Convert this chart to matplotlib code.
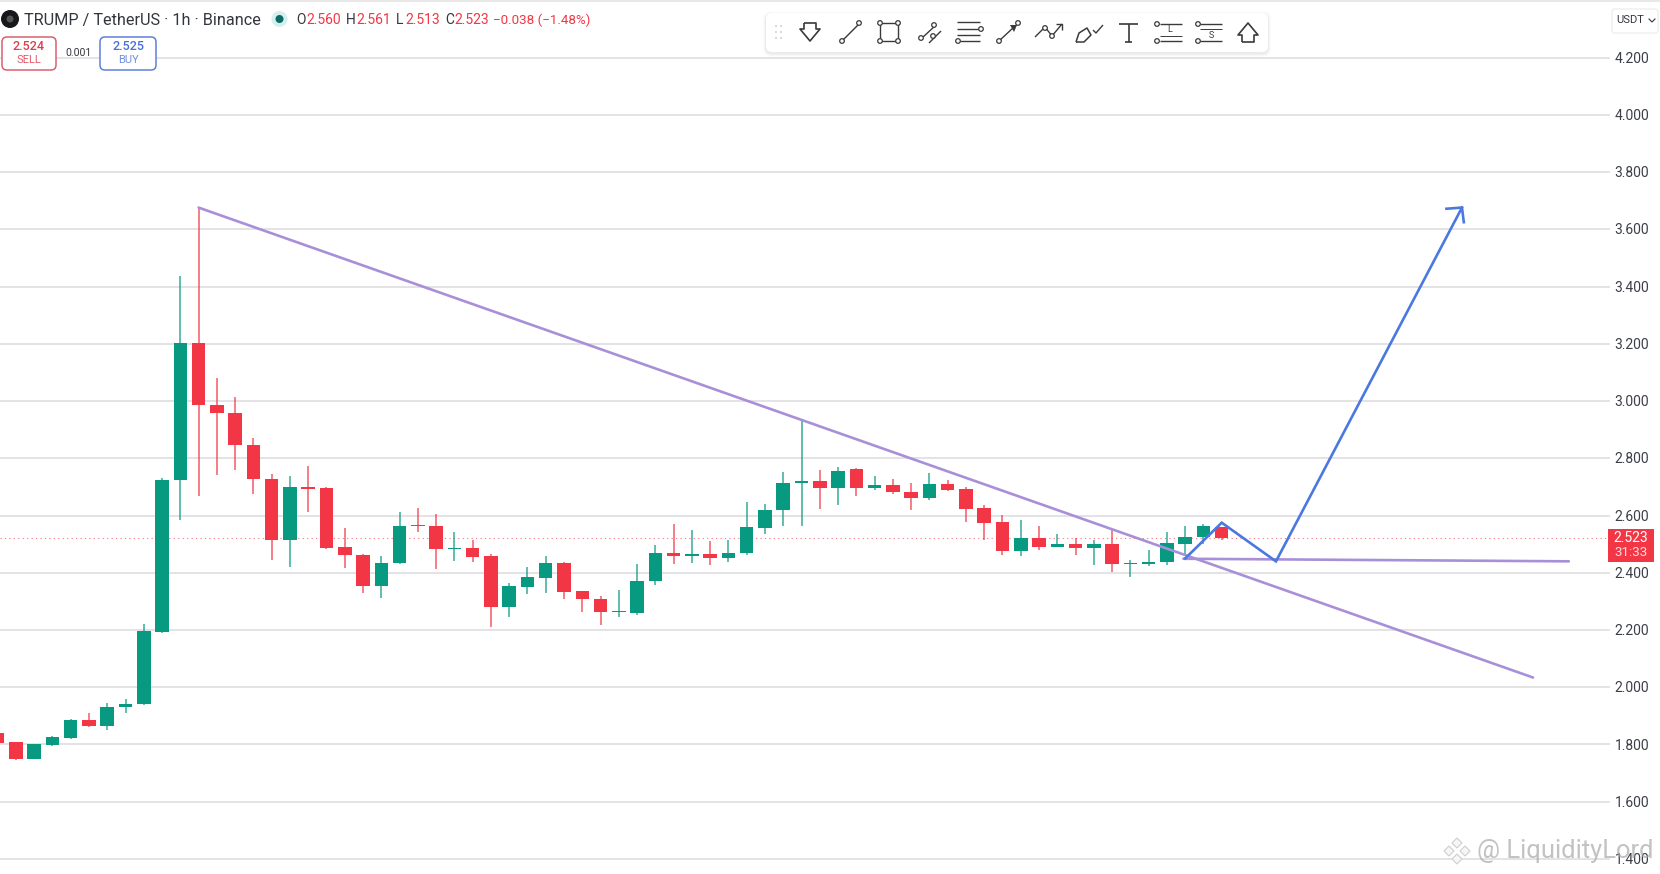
import numpy as np
import matplotlib
matplotlib.use("Agg")
import matplotlib.pyplot as plt
from matplotlib.patches import FancyBboxPatch, Circle, Rectangle, Polygon

plt.rcParams['font.family'] = ['Roboto', 'DejaVu Sans']

# candles, first one is cut by the left edge
opens = [1.84, 1.807, 1.75, 1.797, 1.823, 1.886, 1.865, 1.93, 1.94, 2.193, 2.725, 3.203, 2.986, 2.96, 2.847, 2.726,
         2.513, 2.70, 2.697, 2.489, 2.462, 2.355, 2.435, 2.568, 2.563, 2.484, 2.487, 2.457, 2.282, 2.352, 2.381,
         2.434, 2.336, 2.31, 2.263, 2.26, 2.37, 2.47, 2.458, 2.467, 2.451, 2.468, 2.558, 2.62, 2.713, 2.72, 2.697,
         2.762, 2.697, 2.706, 2.683, 2.66, 2.71, 2.691, 2.625, 2.578, 2.476, 2.52, 2.491, 2.5, 2.488, 2.5, 2.431,
         2.429, 2.436, 2.502, 2.525, 2.560]
highs = [1.85, 1.81, 1.802, 1.83, 1.89, 1.91, 1.945, 1.96, 2.22, 2.73, 3.438, 3.676, 3.08, 3.014, 2.87, 2.744, 2.737,
         2.773, 2.70, 2.557, 2.465, 2.458, 2.612, 2.625, 2.607, 2.543, 2.516, 2.467, 2.364, 2.42, 2.457, 2.436,
         2.338, 2.32, 2.34, 2.43, 2.497, 2.572, 2.55, 2.511, 2.516, 2.648, 2.641, 2.751, 2.935, 2.759, 2.768, 2.765,
         2.739, 2.726, 2.715, 2.747, 2.724, 2.70, 2.636, 2.601, 2.584, 2.563, 2.537, 2.523, 2.513, 2.549, 2.445,
         2.478, 2.543, 2.563, 2.57, 2.561]
lows = [1.80, 1.745, 1.748, 1.795, 1.818, 1.86, 1.85, 1.91, 1.938, 2.19, 2.586, 2.67, 2.74, 2.76, 2.675, 2.444, 2.42,
        2.612, 2.484, 2.418, 2.33, 2.312, 2.43, 2.543, 2.414, 2.44, 2.437, 2.21, 2.247, 2.326, 2.329, 2.308, 2.263,
        2.219, 2.244, 2.254, 2.359, 2.432, 2.435, 2.428, 2.439, 2.462, 2.534, 2.565, 2.565, 2.623, 2.637, 2.668,
        2.689, 2.677, 2.619, 2.654, 2.684, 2.578, 2.513, 2.461, 2.457, 2.478, 2.489, 2.461, 2.428, 2.403, 2.385,
        2.425, 2.426, 2.461, 2.50, 2.513]
closes = [1.805, 1.75, 1.80, 1.825, 1.886, 1.863, 1.93, 1.942, 2.196, 2.724, 3.203, 2.986, 2.96, 2.847, 2.726, 2.513,
          2.70, 2.694, 2.486, 2.462, 2.355, 2.435, 2.565, 2.564, 2.484, 2.488, 2.455, 2.282, 2.354, 2.384, 2.434,
          2.333, 2.308, 2.263, 2.267, 2.372, 2.47, 2.458, 2.466, 2.451, 2.47, 2.559, 2.621, 2.715, 2.72, 2.697, 2.757,
          2.697, 2.705, 2.683, 2.66, 2.71, 2.689, 2.623, 2.575, 2.476, 2.522, 2.491, 2.5, 2.488, 2.5, 2.431, 2.435,
          2.438, 2.504, 2.526, 2.563, 2.523]
last_price = 2.523

price_ticks = [4.2, 4.0, 3.8, 3.6, 3.4, 3.2, 3.0, 2.8, 2.6, 2.4, 2.2, 2.0, 1.8, 1.6, 1.4]

# drawings on the chart, as (bar index, price)
trend_x = [10, 83.04]
trend_y = [3.676, 2.034]
level_x = [63.9, 85.0]
level_y = [2.449, 2.44]
path_x = [64.0, 66.0, 68.97, 79.15]
path_y = [2.45, 2.575, 2.44, 3.676]
head_x = [78.3, 79.15, 79.25]
head_y = [3.672, 3.676, 3.625]

GREEN = '#089981'
RED = '#f23645'
BLUE = '#4b78e0'
PURPLE = '#a98fd8'
GRID = '#e1e1e3'

W, H = 1660, 874
fig = plt.figure(figsize=(W / 100, H / 100), dpi=100, facecolor='white')

# price chart covers the whole figure
ax = fig.add_axes([0, 0, 1, 1])
ax.set_axis_off()
ax.set_xlim(-15.9 / 18.27, (W - 15.9) / 18.27)
ax.set_ylim(2.8 - (H - 458.3) / 286.2, 2.8 + 458.3 / 286.2)

# grid stops at the price scale
grid_end = 1609 / W
for p in price_ticks:
    ax.axhline(p, xmin=0, xmax=grid_end, color=GRID, lw=1.3, zorder=1)
ax.axhline(last_price, xmin=0, xmax=grid_end, color=RED, lw=0.8, ls=(0, (1, 3)), alpha=0.7, zorder=2)

idx = np.arange(len(opens)) - 1
o = np.array(opens)
c = np.array(closes)
colors = [GREEN if c[i] >= o[i] else RED for i in range(len(o))]
ax.vlines(idx, lows, highs, colors=colors, lw=1.2, alpha=0.75, zorder=3)
ax.bar(idx, np.abs(c - o), bottom=np.minimum(o, c), width=0.74, color=colors, zorder=4)

ax.plot(trend_x, trend_y, color=PURPLE, lw=1.9, zorder=5, solid_capstyle='round')
ax.plot(level_x, level_y, color=PURPLE, lw=1.9, zorder=5, solid_capstyle='round')
ax.plot(path_x, path_y, color=BLUE, lw=1.9, zorder=6, solid_joinstyle='miter')
ax.plot(head_x, head_y, color=BLUE, lw=1.9, zorder=6, solid_joinstyle='miter')

# everything else is screen furniture, placed in pixels
ui = fig.add_axes([0, 0, 1, 1])
ui.set_axis_off()
ui.patch.set_alpha(0)
ui.set_xlim(0, W)
ui.set_ylim(H, 0)

ui.add_patch(Rectangle((0, 0), W, 2, color='#e8e8e8', lw=0))

for p in price_ticks:
    y = 459.3 + (2.8 - p) * 286.2
    ui.text(1632, y, f'{p:.3f}', ha='center', va='center', fontsize=10, color='#3c3f47')

# last price tag
ui.add_patch(Rectangle((1608, 529), 46, 33, color=RED, lw=0, zorder=5))
ui.text(1631, 538, '2.523', ha='center', va='center', fontsize=10, color='white', zorder=6)
ui.text(1631, 553, '31:33', ha='center', va='center', fontsize=9.6, color='#fbdde0', zorder=6)

# header
ui.add_patch(Circle((10, 19), 9, color='#16181c', lw=0))
ui.add_patch(Circle((10, 19), 3.5, color='#555555', lw=0))
ui.text(24, 20.5, 'TRUMP / TetherUS · 1h · Binance', ha='left', va='center', fontsize=11.7, color='#33363d')
ui.add_patch(Circle((279.5, 19), 8, color='#d5eeee', lw=0))
ui.add_patch(Circle((279.5, 19), 4, color='#0c6b66', lw=0))
header = [(296, 'O', '#33363d', 10), (306, '2.560', RED, 10), (346, 'H', '#33363d', 10), (356, '2.561', RED, 10),
          (396, 'L', '#33363d', 10), (405, '2.513', RED, 10), (445, 'C', '#33363d', 10), (454, '2.523', RED, 10),
          (493, '−0.038 (−1.48%)', RED, 9.6)]
for hx, s, col, fs in header:
    ui.text(hx, 20, s, ha='left', va='center', fontsize=fs, color=col)

# sell / buy buttons
ui.add_patch(FancyBboxPatch((2, 37), 54, 33, boxstyle='round,pad=0,rounding_size=5', fc='white', ec='#d9616f', lw=1.1))
ui.text(29, 47, '2.524', ha='center', va='center', fontsize=9, color='#d8404f', fontweight='medium')
ui.text(29, 60, 'SELL', ha='center', va='center', fontsize=8, color='#e0596a')
ui.text(78, 53, '0.001', ha='center', va='center', fontsize=7.5, color='#33363d')
ui.add_patch(FancyBboxPatch((100, 37), 56, 33, boxstyle='round,pad=0,rounding_size=5', fc='white', ec='#5f7fd8', lw=1.1))
ui.text(128, 47, '2.525', ha='center', va='center', fontsize=9, color='#4a6fd8', fontweight='medium')
ui.text(128, 60, 'BUY', ha='center', va='center', fontsize=8, color='#6f8fe0')

# currency box
ui.add_patch(FancyBboxPatch((1612, 9), 46, 24, boxstyle='round,pad=0,rounding_size=3', fc='white', ec='#eeeeee', lw=1))
ui.text(1630, 20, 'USDT', ha='center', va='center', fontsize=8, color='#33363d')
ui.plot([1649, 1652, 1655], [19, 22, 19], color='#33363d', lw=0.8)

# drawing toolbar, soft shadow then the panel
for off, a in [(3, 0.015), (2, 0.025), (1, 0.04)]:
    ui.add_patch(FancyBboxPatch((766 - off, 13 - off + 1.5), 502 + 2 * off, 39 + 2 * off,
                                boxstyle='round,pad=0,rounding_size=7', fc='black', ec='none', alpha=a))
ui.add_patch(FancyBboxPatch((766, 13), 502, 39, boxstyle='round,pad=0,rounding_size=6', fc='white', ec='none'))

ICON = '#3a3a3a'


def seg(xs, ys, lw=1.0):
    ui.plot(xs, ys, color=ICON, lw=lw, solid_capstyle='butt', zorder=7)


def dot(x, y):
    ui.add_patch(Circle((x, y), 2.3, fc='white', ec=ICON, lw=0.9, zorder=8))


for gx in [776, 781]:
    for gy in [26, 32, 38]:
        ui.add_patch(Circle((gx, gy), 0.9, color='#c8c8c8', lw=0))

# down arrow
seg([804, 804, 800, 810, 820, 816, 816, 804], [23, 29, 29, 41, 29, 29, 23, 23], 1.2)
# trend line
seg([842, 859], [41, 24])
dot(842, 41)
dot(859, 23)
# rectangle
seg([880, 898, 898, 880, 880], [23, 23, 41, 41, 23])
for px_, py_ in [(880, 23), (898, 23), (880, 41), (898, 41)]:
    dot(px_, py_)
# parallel lines
seg([922, 936], [38, 25])
seg([929, 941], [43, 31])
dot(921, 38)
dot(934, 25)
dot(933, 36)
# horizontal lines
seg([957, 980], [22, 22])
seg([957, 979], [29, 29])
seg([957, 980], [35, 35])
seg([960, 980], [41, 41])
dot(981, 29)
dot(958, 41)
# arrow line
seg([999, 1014], [41, 27])
ui.add_patch(Polygon([[1010, 25], [1017, 25], [1014, 32]], color=ICON, lw=0, zorder=8))
dot(999, 41)
dot(1018, 23)
# path
seg([1035, 1045, 1052, 1062], [37, 27, 36, 24])
seg([1056, 1062, 1062], [24, 24, 30])
dot(1045, 28)
dot(1052, 36)
# brush
seg([1076, 1079, 1087, 1091, 1084, 1076], [42, 33, 28, 35, 42, 42], 1.1)
seg([1093, 1096, 1103], [30, 33, 25])
# text tool
seg([1119, 1138], [24, 24], 1.2)
seg([1128.5, 1128.5], [24, 42], 1.2)
seg([1125, 1132], [42, 42], 1.2)
# long position
seg([1160, 1182], [24, 24])
seg([1160, 1182], [41, 41])
seg([1160, 1182], [36, 36], 0.7)
dot(1157, 24)
dot(1157, 41)
ui.text(1170, 30, 'L', ha='center', va='center', fontsize=6.5, color=ICON, zorder=8)
# short position
seg([1200, 1222], [24, 24])
seg([1200, 1222], [41, 41])
seg([1200, 1222], [29, 29], 0.7)
dot(1198, 24)
dot(1198, 41)
ui.text(1211, 35, 'S', ha='center', va='center', fontsize=6.5, color=ICON, zorder=8)
# up arrow
seg([1242, 1242, 1238, 1248, 1258, 1254, 1254, 1242], [42, 35, 35, 23, 35, 35, 42, 42], 1.2)

# watermark
for dx, dy in [(0, -8), (-8, 0), (8, 0), (0, 8)]:
    ui.add_patch(Polygon([[1457 + dx, 851 + dy - 5], [1457 + dx + 5, 851 + dy], [1457 + dx, 851 + dy + 5],
                          [1457 + dx - 5, 851 + dy]], fc='#f6f6f6', ec='#cfcfcf', lw=0.8, zorder=9))
ui.text(1477, 851, '@ LiquidityLord', ha='left', va='center', fontsize=18.4, color='#a8a8a8', alpha=0.7, zorder=9)

fig.savefig('out.png', dpi=100)
